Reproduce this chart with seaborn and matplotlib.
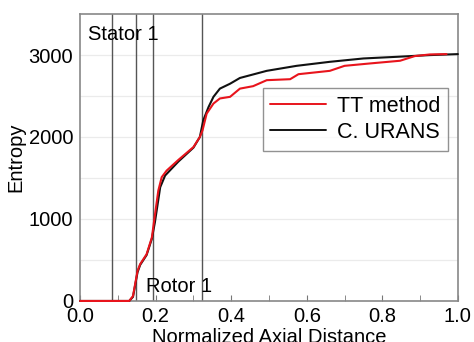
import numpy as np
import pandas as pd
import matplotlib
matplotlib.use("Agg")
import matplotlib.pyplot as plt
import seaborn as sns
from matplotlib.lines import Line2D

# Data
tt_x = [0.0, 0.13, 0.14, 0.152, 0.159, 0.176, 0.19, 0.196, 0.207, 0.216, 0.229, 0.26, 0.30, 0.317,
        0.324, 0.335, 0.353, 0.37, 0.397, 0.423, 0.458, 0.494, 0.556, 0.578, 0.661, 0.70, 0.767,
        0.847, 0.886, 0.926, 0.97]
tt_y = [0, 0, 60, 367, 450, 570, 775, 980, 1346, 1510, 1590, 1720, 1877, 2000,
        2080, 2285, 2408, 2470, 2490, 2590, 2620, 2693, 2705, 2766, 2807, 2868, 2897,
        2930, 2987, 3007, 3011]
urans_x = [0.0, 0.13, 0.14, 0.152, 0.159, 0.176, 0.19, 0.198, 0.212, 0.225, 0.26, 0.30, 0.317,
           0.326, 0.34, 0.353, 0.37, 0.397, 0.423, 0.494, 0.573, 0.661, 0.75, 0.838, 0.926, 1.0]
urans_y = [0, 0, 50, 350, 440, 560, 760, 960, 1387, 1530, 1700, 1870, 2000,
           2203, 2366, 2490, 2590, 2650, 2720, 2807, 2868, 2917, 2958, 2978, 2999, 3011]
series_names = ["TT method", "C. URANS"]
vlines_x = [0.085, 0.148, 0.193, 0.323]
region_labels = ["Stator 1", "Rotor 1"]

df = pd.concat([
    pd.DataFrame({"x": tt_x, "y": tt_y, "series": series_names[0]}),
    pd.DataFrame({"x": urans_x, "y": urans_y, "series": series_names[1]}),
])

sns.set_style("white")
plt.rcParams["font.family"] = ["Liberation Sans", "DejaVu Sans"]
plt.rcParams["text.color"] = "black"
plt.rcParams["axes.labelcolor"] = "black"
plt.rcParams["xtick.color"] = "black"
plt.rcParams["ytick.color"] = "black"

fig = plt.figure(figsize=(4.74, 3.42), dpi=100)
ax = fig.add_axes([0.169, 0.12, 0.797, 0.839])

for yv in [500, 1000, 1500, 2000, 2500, 3000]:
    ax.axhline(yv, color="#ebebeb", lw=0.9, zorder=0)
for xv in vlines_x:
    ax.axvline(xv, color="#555555", lw=1.0, zorder=1)

palette = {series_names[0]: "#e8141c", series_names[1]: "#111111"}
sns.lineplot(data=df[df.series == series_names[1]], x="x", y="y", color=palette[series_names[1]],
             lw=1.5, ax=ax, legend=False, zorder=3, clip_on=False)
sns.lineplot(data=df[df.series == series_names[0]], x="x", y="y", color=palette[series_names[0]],
             lw=1.5, ax=ax, legend=False, zorder=4, clip_on=False)

handles = [Line2D([], [], color=palette[n], lw=1.4) for n in series_names]
leg = ax.legend(handles, series_names, loc="upper left", bbox_to_anchor=(0.484, 0.742),
                fontsize=15.5, frameon=True, fancybox=False, handlelength=2.6,
                borderpad=0.35, labelspacing=0.25, handletextpad=0.5, borderaxespad=0)
leg.get_frame().set_edgecolor("#777777")
leg.get_frame().set_linewidth(1.0)

ax.set_xlim(0, 1.0)
ax.set_ylim(0, 3500)
ax.set_xticks([0.0, 0.2, 0.4, 0.6, 0.8, 1.0])
ax.set_xticks(np.arange(0.1, 1.0, 0.2), minor=True)
ax.set_yticks([0, 1000, 2000, 3000])
ax.tick_params(axis="x", which="both", direction="in", length=4, color="#777777",
               labelcolor="black", labelsize=14.5, pad=4, bottom=True)
ax.tick_params(axis="y", which="both", length=0, labelsize=14.5, pad=5, labelcolor="black")
ax.set_xticklabels(["0.0", "0.2", "0.4", "0.6", "0.8", "1.0"])
for s in ax.spines.values():
    s.set_color("#888888")
    s.set_linewidth(1.2)

ax.set_xlabel("Normalized Axial Distance", fontsize=14.5, labelpad=2, color="black")
ax.set_ylabel("Entropy", fontsize=14.5, labelpad=2, color="black")

ax.text(0.022, 0.93, region_labels[0], transform=ax.transAxes, fontsize=14.5, va="center",
        ha="left", color="black")
ax.text(0.175, 0.05, region_labels[1], transform=ax.transAxes, fontsize=14.5, va="center",
        ha="left", color="black")

fig.savefig("out.png", dpi=100)
